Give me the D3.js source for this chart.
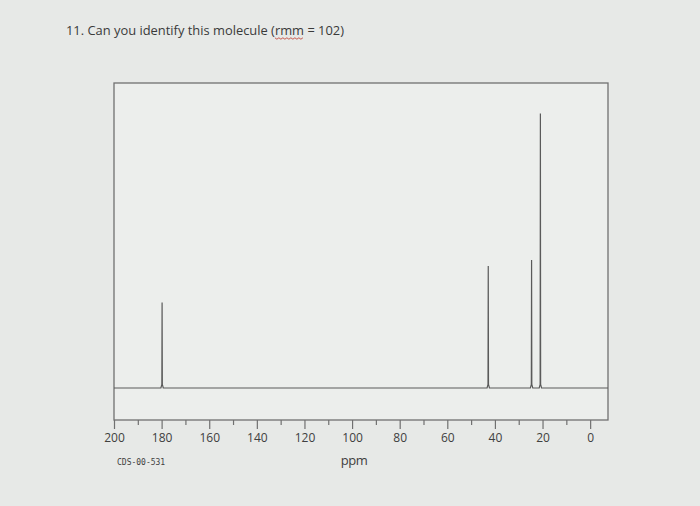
<!DOCTYPE html>
<html>
<head>
<meta charset="utf-8">
<script src="https://cdn.jsdelivr.net/npm/d3@7"></script>
<style>
  html, body { margin: 0; padding: 0; background: #e7e9e7; }
  svg { display: block; }
</style>
</head>
<body>
<svg id="chart"></svg>
<script>
// Peak data (ppm, relative intensity)
var peakShifts = [179.8, 42.8, 24.6, 20.9];
var peakHeights = [0.28, 0.40, 0.42, 0.90];
var majorTicks = [200, 180, 160, 140, 120, 100, 80, 60, 40, 20, 0];
var minorTicks = [190, 170, 150, 130, 110, 90, 70, 50, 30, 10];
var titleText = '11. Can you identify this molecule (rmm = 102)';
var codeText = 'CDS-00-531';
var axisTitle = 'ppm';

function drawSpectrum() {
    var svgWidth = 700;
    var svgHeight = 506;
    var box = {l: 114, r: 608, t: 83, b: 420};
    var baselineY = 388;
    var lineColor = '#707070';

    const svg = d3.select('#chart')
        .attr('width', svgWidth)
        .attr('height', svgHeight);

    // Scales
    var xScale = d3.scaleLinear()
        .domain([200, -7.5])
        .range([box.l, box.r]);

    var yScale = d3.scaleLinear()
        .domain([0, 1])
        .range([baselineY, box.t]);

    // Title
    var title = svg.append('text')
        .attr('x', 66)
        .attr('y', 35)
        .attr('fill', '#3a3a3a')
        .attr('font-family', 'Open Sans, sans-serif')
        .attr('font-size', '12.9px')
        .text(titleText);

    // red spell-check squiggle under "rmm"
    var full = title.node();
    var startIdx = titleText.indexOf('rmm');
    var p0 = full.getStartPositionOfChar(startIdx);
    var p1 = full.getEndPositionOfChar(startIdx + 2);
    var squiggle = d3.range(p0.x, p1.x, 2).map((x, i) => [x, 38 + (i % 2 ? 1.2 : -0.2)]);
    svg.append('path')
        .attr('d', d3.line()(squiggle))
        .attr('fill', 'none')
        .attr('stroke', '#c0392b')
        .attr('stroke-width', 0.8);

    // Frame
    svg.append('rect')
        .attr('x', box.l)
        .attr('y', box.t)
        .attr('width', box.r - box.l)
        .attr('height', box.b - box.t)
        .attr('fill', '#eceeec')
        .attr('stroke', lineColor)
        .attr('stroke-width', 1.3);

    // Spectrum: baseline + peaks built from the data
    var pts = [[200, 0]];
    peakShifts.map((s, i) => ({s: s, h: peakHeights[i]}))
        .sort((a, b) => b.s - a.s)
        .forEach(p => {
            pts.push([p.s + 0.5, 0]);
            pts.push([p.s + 0.1, 0.012]);
            pts.push([p.s, p.h]);
            pts.push([p.s - 0.1, 0.012]);
            pts.push([p.s - 0.5, 0]);
        });
    pts.push([-7.5, 0]);

    svg.append('path')
        .attr('d', d3.line().x(d => xScale(d[0])).y(d => yScale(d[1]))(pts))
        .attr('fill', 'none')
        .attr('stroke', '#5a5a5a')
        .attr('stroke-width', 1.2);

    // Axes
    var axisG = svg.append('g')
        .attr('transform', 'translate(0,' + box.b + ')');

    axisG.append('g')
        .call(d3.axisBottom(xScale).tickValues(minorTicks).tickSize(5).tickFormat('').tickSizeOuter(0))
        .call(g => g.select('.domain').remove())
        .selectAll('line').attr('stroke', lineColor).attr('stroke-width', 1.2);

    var major = axisG.append('g')
        .call(d3.axisBottom(xScale).tickValues(majorTicks).tickSize(9).tickPadding(4).tickSizeOuter(0));
    major.select('.domain').remove();
    major.selectAll('line').attr('stroke', lineColor).attr('stroke-width', 1.2);
    major.selectAll('text')
        .attr('fill', '#404040')
        .attr('font-family', 'Open Sans, sans-serif')
        .attr('font-size', '12px');

    svg.append('text')
        .attr('x', 117)
        .attr('y', 465)
        .attr('fill', '#404040')
        .attr('font-family', 'DejaVu Sans Mono, monospace')
        .attr('font-size', '8px')
        .text(codeText);

    svg.append('text')
        .attr('x', xScale(100) + 2)
        .attr('y', 465)
        .attr('text-anchor', 'middle')
        .attr('fill', '#404040')
        .attr('font-family', 'Open Sans, sans-serif')
        .attr('font-size', '13px')
        .attr('letter-spacing', '-0.5px')
        .text(axisTitle);
}

drawSpectrum();
</script>
</body>
</html>
